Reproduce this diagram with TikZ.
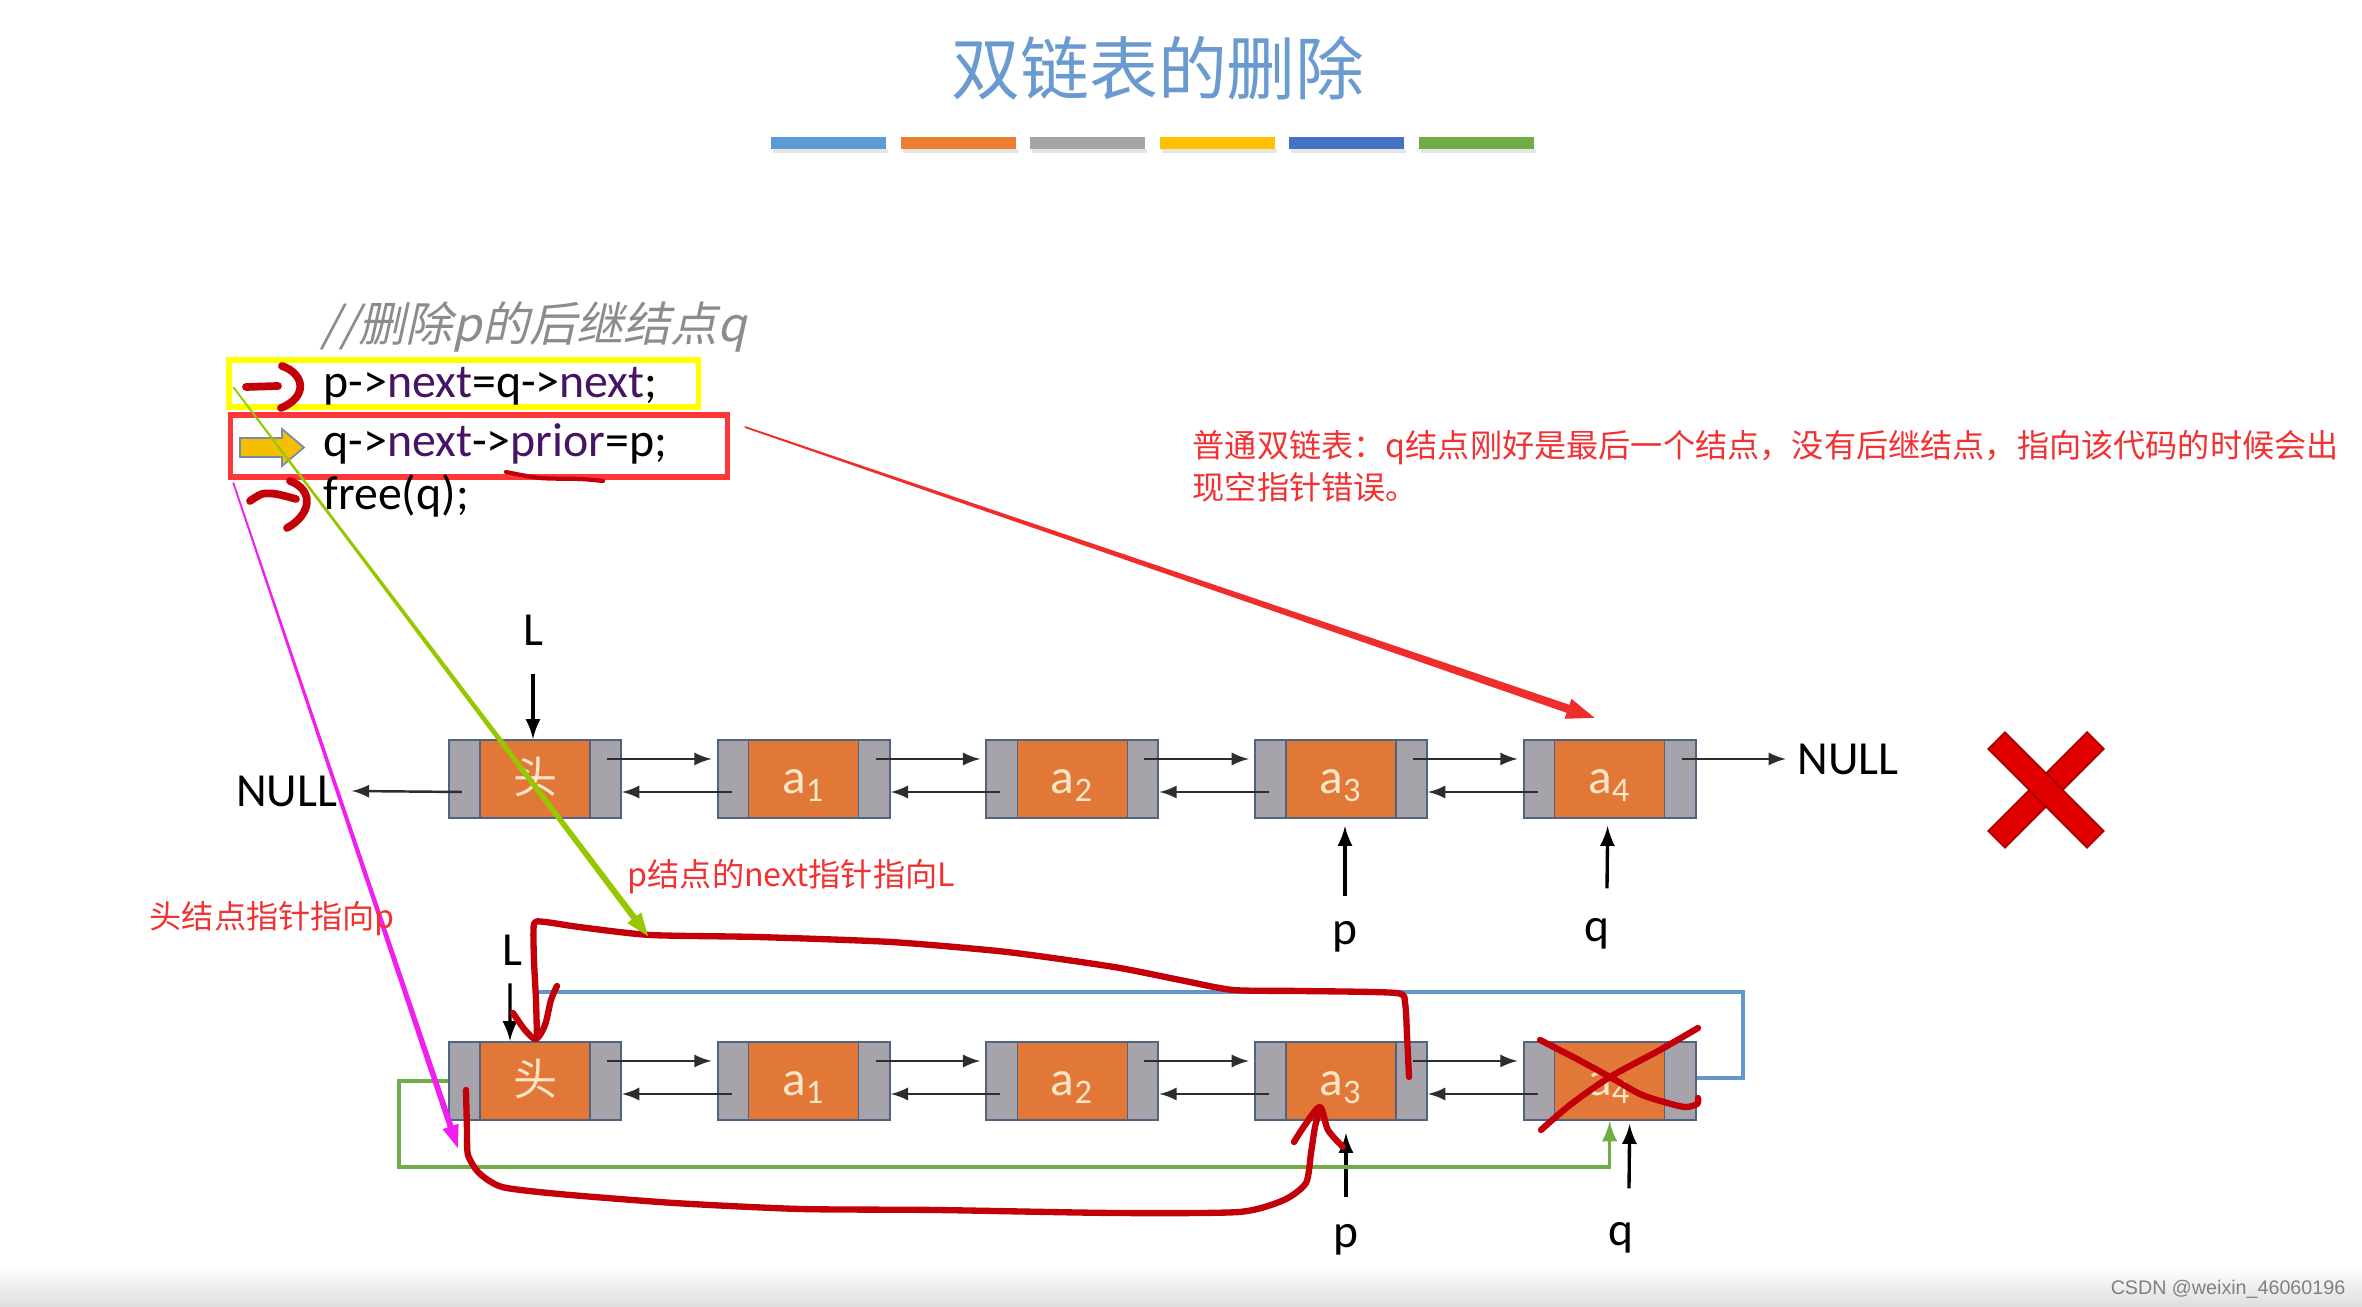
\documentclass[tikz,border=0pt]{standalone}
\usepackage{fontspec}
\setmainfont{Carlito}
\newfontfamily\cjk{Noto Sans CJK SC}
\newfontfamily\cjkslant[FakeSlant=0.22]{Noto Sans CJK SC}
\newfontfamily\footfont{Liberation Sans}
\usetikzlibrary{positioning,calc}

\definecolor{titleblue}{RGB}{105,155,208}
\definecolor{bar1}{RGB}{91,155,213}
\definecolor{bar2}{RGB}{237,125,49}
\definecolor{bar3}{RGB}{165,165,165}
\definecolor{bar4}{RGB}{255,192,0}
\definecolor{bar5}{RGB}{68,114,196}
\definecolor{bar6}{RGB}{112,173,71}
\definecolor{nodegray}{RGB}{166,164,170}
\definecolor{nodeedge}{RGB}{80,100,130}
\definecolor{nodeorange}{RGB}{226,120,56}
\definecolor{nodetext}{RGB}{253,230,200}
\definecolor{ptrgray}{RGB}{45,45,45}
\definecolor{handred}{RGB}{195,0,10}
\definecolor{notered}{RGB}{240,50,50}
\definecolor{hlyellow}{RGB}{255,255,0}
\definecolor{boxred}{RGB}{255,55,55}
\definecolor{arrowred}{RGB}{240,45,45}
\definecolor{arrowgreen}{RGB}{150,200,0}
\definecolor{arrowpink}{RGB}{240,30,240}
\definecolor{arrowyellow}{RGB}{245,190,0}
\definecolor{arrowedge}{RGB}{120,140,170}
\definecolor{loopgreen}{RGB}{112,173,71}
\definecolor{loopblue}{RGB}{100,150,205}
\definecolor{codepurple}{RGB}{70,20,100}
\definecolor{commentgray}{RGB}{140,140,140}
\definecolor{crossred}{RGB}{225,0,0}

\newcommand\dataname[1]{a\textsubscript{#1}}
\newcommand\codekw[1]{\textcolor{codepurple}{#1}}
% colour, start, tip, shaft half width, head half width, head length
\newcommand\taperarrow[6]{%
  \coordinate (tpa-s) at #2;
  \coordinate (tpa-e) at #3;
  \coordinate (tpa-n) at ($(tpa-e)!#6!(tpa-s)$);
  \fill[#1] ($(tpa-s)!0.25pt!90:(tpa-e)$) -- ($(tpa-n)!#4!-90:(tpa-s)$)
    -- ($(tpa-n)!#5!-90:(tpa-s)$) -- (tpa-e) -- ($(tpa-n)!#5!90:(tpa-s)$)
    -- ($(tpa-n)!#4!90:(tpa-s)$) -- ($(tpa-s)!0.25pt!-90:(tpa-e)$) -- cycle;}

\begin{document}
\begin{tikzpicture}[x=0.01cm, y=-0.01cm,
    listnode/.style={draw=nodeedge, line width=0.6pt, fill=nodegray, minimum width=1.72cm, minimum height=0.78cm,
      inner sep=0pt, text=nodetext, text height=2.9mm, text depth=0pt, font=\fontsize{14}{14}\selectfont,
      path picture={\filldraw[fill=nodeorange, draw=nodeedge, line width=0.4pt]
        ([xshift=3.1mm]path picture bounding box.south west) rectangle ([xshift=-3.1mm]path picture bounding box.north east);}},
    ptr/.style={draw=ptrgray, line width=0.7pt, -latex},
    headptr/.style={ptr, draw=black, line width=0.95pt},
    ptrlabel/.style={inner sep=0pt, font=\fontsize{13.5}{14}\selectfont},
    codeline/.style={inner sep=0pt, anchor=base west, font=\fontsize{13.6}{16}\selectfont},
    hand/.style={draw=handred, line width=1.8pt, line cap=round, line join=round},
    remark/.style={inner sep=0pt, text=notered, font=\cjk\fontsize{9.15}{11.9}\selectfont},
    hlbox/.style={draw=#1, line width=1.5pt, inner sep=0pt}
  ]
  \useasboundingbox (0,0) rectangle (2362,1307);
  \shade[top color=white, bottom color=black!13] (0,1266) rectangle (2362,1307);

  % title and colour strip
  \node[text=titleblue, font=\cjk\fontsize{19.6}{20}\selectfont] (title) at (1158,68) {双链表的删除};
  \foreach \c [count=\i from 0] in {bar1,bar2,bar3,bar4,bar5,bar6} {
    \fill[black!10] (773+\i*129.6,149) rectangle ++(115,4);
    \fill[\c] (771+\i*129.6,137) rectangle ++(115,12);
  }

  % code
  \node[codeline, text=commentgray, font=\cjkslant\fontsize{13.4}{16}\selectfont] (comment) at (321,342) {//删除p的后继结点q};
  \node[hlbox=hlyellow, minimum width=4.69cm, minimum height=0.47cm] (nextbox) at (463.5,383.5) {};
  \node[hlbox=boxred, minimum width=4.96cm, minimum height=0.62cm] (priorbox) at (479,446) {};
  \node[codeline] (line1) at (323,398) {p->\codekw{next}=q->\codekw{next};};
  \node[codeline] (line2) at (323,457) {q->\codekw{next}->\codekw{prior}=p;};
  \node[codeline] (line3) at (323,510) {free(q);};
  \filldraw[fill=arrowyellow, draw=arrowedge, line width=0.5pt] (240,438) -- (282,438) -- (282,429) -- (304,447.5)
    -- (282,466) -- (282,457) -- (240,457) -- cycle;
  \draw[hand, line width=2.2pt] (246,387) -- (278,386);
  \draw[hand, line width=2.2pt] (282,366) .. controls (305,374) and (308,397) .. (281,408);
  \draw[hand, line width=2.2pt] plot[smooth] coordinates {(250,501) (262,494) (276,494) (296,499)};
  \draw[hand, line width=2.2pt] (290,481) .. controls (314,490) and (312,514) .. (287,528);
  \draw[hand, line width=1.2pt] plot[smooth] coordinates {(506,472) (540,478) (580,479) (603,481)};

  \node[remark, anchor=north west, align=left] (note) at (1192,430)
    {普通双链表：q结点刚好是最后一个结点，没有后继结点，指向该代码的时候会出\\现空指针错误。};

  % the two lists
  \foreach \rowname/\ypos in {t/779,b/1081} {
    \node[listnode] (\rowname0) at (535,\ypos) {\cjk\fontsize{12.5}{13}\selectfont 头};
    \foreach \i [count=\j from 0] in {1,...,4}
      \node[listnode, right=9.44mm of \rowname\j] (\rowname\i) {\dataname{\i}};
    \foreach \i [count=\j from 0] in {1,...,4} {
      \draw[ptr] ([xshift=-1.5mm,yshift=2mm]\rowname\j.east) -- ([xshift=-0.5mm,yshift=2mm]\rowname\i.west);
      \draw[ptr] ([xshift=1.5mm,yshift=-1.3mm]\rowname\i.west) -- ([yshift=-1.3mm]\rowname\j.east);
    }
  }

  \node[ptrlabel, left=1.1cm of t0, yshift=-1.2mm] (nullL) {NULL};
  \draw[ptr] ([xshift=1.4mm,yshift=-1.3mm]t0.west) -- ([xshift=1.4mm]nullL.east);
  \node[ptrlabel, right=1.0cm of t4, yshift=2mm] (nullR) {NULL};
  \draw[ptr] ([xshift=-1.5mm,yshift=2mm]t4.east) -- ([xshift=-1.1mm]nullR.west);

  \node[ptrlabel] (topL) at (533,630) {L};
  \draw[headptr] ([yshift=-2.8mm]topL.south) -- (topL.south |- t0.north);
  \node[ptrlabel] (topp) at (1345,937) {p};
  \draw[headptr, shorten >=0.7mm] ([yshift=2.5mm]topp.north) -- (topp.north |- t3.south);
  \node[ptrlabel] (topq) at (1597,934) {q};
  \draw[headptr] ([xshift=1mm,yshift=2.95mm]topq.north) -- ([xshift=-0.2mm,yshift=-0.7mm]t4.south);

  \node[ptrlabel] (botL) at (512,950) {L};
  \draw[headptr] ([xshift=-0.2mm,yshift=-1.75mm]botL.south) -- ([xshift=-2.5mm]b0.north);
  \node[ptrlabel] (botp) at (1346,1240) {p};
  \draw[headptr, shorten >=1.2mm] ([yshift=2.65mm]botp.north) -- (botp.north |- b3.south);
  \node[ptrlabel] (botq) at (1621,1238) {q};
  \draw[headptr] ([xshift=0.8mm,yshift=3.35mm]botq.north) -- ([xshift=2mm,yshift=-0.3mm]b4.south);

  % circular links
  \draw[draw=loopgreen, line width=1pt, -latex] (b0.west) -- ++(-49,0) -- ++(0,86) -| (b4.south);
  \draw[draw=loopblue, line width=1pt] ([yshift=0.3mm]b4.east) -- ++(46,0) |- (536,992) -- (536,1040);

  % hand drawn marks
  \draw[hand] plot[smooth, tension=0.4] coordinates {(1409,1077) (1407,1035) (1405,1003) (1396,993) (1300,991)
    (1233,990) (1180,980) (1114,967) (1007,952) (891,942) (757,937) (650,935) (579,927) (545,922) (534,924)
    (534,960) (536,1000) (537,1037)};
  \draw[hand] plot[smooth] coordinates {(513,1013) (525,1030) (536,1039) (545,1025) (551,1000) (557,986)};
  \draw[hand] plot[smooth, tension=0.4] coordinates {(466,1090) (467,1130) (468,1155) (479,1173) (502,1187)
    (559,1194) (674,1203) (800,1209) (936,1210) (1114,1213) (1239,1212) (1284,1200) (1306,1183) (1311,1153)
    (1315,1127) (1320,1108)};
  \draw[hand] plot[smooth] coordinates {(1294,1142) (1305,1125) (1320,1107) (1328,1130) (1343,1147)};
  \draw[hand] plot[smooth] coordinates {(1540,1040) (1575,1058) (1610,1077) (1640,1094) (1664,1102) (1685,1107)
    (1697,1104) (1698,1098)};
  \draw[hand] plot[smooth] coordinates {(1698,1028) (1660,1050) (1610,1077) (1570,1105) (1541,1130)};

  % annotation arrows
  \coordinate (nexthit) at (648,936);
  \taperarrow{arrowred}{([xshift=1.5mm,yshift=1.9mm]priorbox.east)}{([xshift=-1.5mm,yshift=2.1mm]t4.north)}{1.2pt}{3pt}{8pt}
  \taperarrow{arrowgreen}{([xshift=0.7mm,yshift=-0.35mm]nextbox.west)}{(nexthit)}{0.9pt}{2.5pt}{6.5pt}
  \taperarrow{arrowpink}{([xshift=0.5mm,yshift=-0.3mm]priorbox.south west)}{([xshift=1mm,yshift=-2.7mm]b0.south west)}{0.85pt}{2.4pt}{6.5pt}
  \node[remark, anchor=west] (nextnote) at (627,877) {p结点的next指针指向L};
  \node[remark, anchor=west] (headnote) at (149,919) {头结点指针指向p};

  % big cross
  \foreach \a in {45,-45}
    \filldraw[fill=crossred, draw=crossred!70!black, line width=0.4pt, rotate around={\a:(2046,790)}]
      (1976,778) rectangle (2116,802);

  \node[inner sep=0pt, anchor=east, text=black!50, font=\footfont\fontsize{5.6}{6}\selectfont] (credit)
    at (2346,1289) {CSDN @weixin\_46060196};
\end{tikzpicture}
\end{document}
